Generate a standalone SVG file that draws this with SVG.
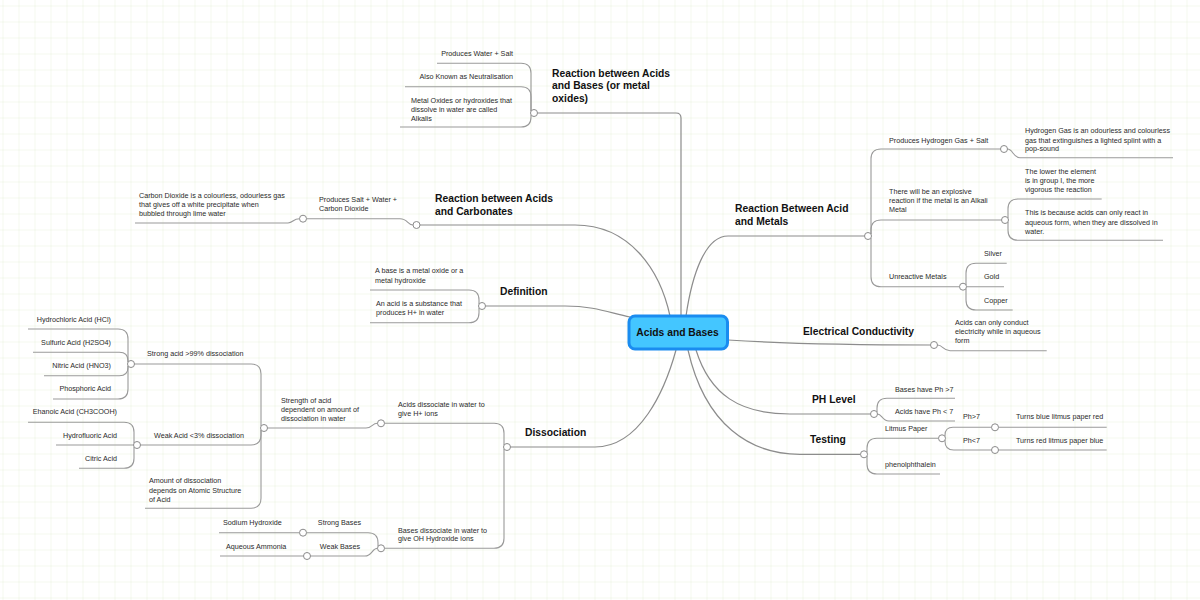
<svg xmlns="http://www.w3.org/2000/svg" width="1200" height="600" viewBox="0 0 1200 600">
<defs>
<pattern id="grid" x="3.5" y="6.5" width="16" height="16" patternUnits="userSpaceOnUse">
<path d="M16 0 V16 M0 16 H16" fill="none" stroke="#e8f0dd" stroke-width="1"/>
</pattern>
<style>
.c{fill:none;stroke:#8c8c8c;stroke-width:1.2}
.l{fill:none;stroke:#9a9a9a;stroke-width:1.1}
.k{fill:#fff;stroke:#8a8a8a;stroke-width:1}
.t{font-family:"Liberation Sans",Arial,sans-serif;font-size:7.2px;fill:#2a2a2a}
.e{text-anchor:end}
.h{font-family:"Liberation Sans",Arial,sans-serif;font-size:10.3px;font-weight:bold;fill:#111}
</style>
</defs>
<rect width="1200" height="600" fill="#fff"/>
<rect width="1200" height="600" fill="url(#grid)"/>

<g id="connectors">
<path class="c" d="M537.5,113 H676 Q681,113 681,118 V316"/>
<path class="c" d="M420,225 H575 C630,225 660,270 670,316"/>
<path class="c" d="M485.5,306 H565 C595,306 610,313 630,317"/>
<path class="c" d="M510.5,447 H595 C640,447 665,390 676,350"/>
<path class="c" d="M864.5,236 H728 C705,236 692,275 686,316"/>
<path class="c" d="M728,340 C790,344 850,345 930.5,345"/>
<path class="c" d="M696,350 C710,395 740,414 790,414 H870.5"/>
<path class="c" d="M688,350 C705,425 750,454.3 800,454.3 H860.5"/>

<path class="l" d="M437,63.3 H521 Q531,63.3 531,73.3 V111.2"/>
<path class="l" d="M405,86.7 H521 Q531,86.7 531,96.7 V111.2"/>
<path class="l" d="M400,127 H521 Q531,127 531,117 V114.8"/>

<path class="l" d="M306.5,218.7 H400 C408,218.7 407,225 413,225"/>
<path class="l" d="M135,223 H288 C293,223 293,218.7 299.5,218.7"/>

<path class="l" d="M370,290 H469 Q479,290 479,300 V304.2"/>
<path class="l" d="M370,322.7 H469 Q479,322.7 479,312.7 V307.8"/>

<path class="l" d="M384.5,423.3 H494 Q504,423.3 504,433.3 V445.2"/>
<path class="l" d="M384.5,548.3 H494 Q504,548.3 504,538.3 V448.8"/>
<path class="l" d="M267.5,428 H366 C372,428 372,423.3 377.5,423.3"/>
<path class="l" d="M134.5,364 H251 Q261,364 261,374 V426.2"/>
<path class="l" d="M140.5,445 H251 Q261,445 261,435 V429.8"/>
<path class="l" d="M145,508.3 H251 Q261,508.3 261,498.3 V429.8"/>
<path class="l" d="M28,329 H118 Q128,329 128,339 V362.2"/>
<path class="l" d="M33,352.3 H119.3 Q128,352.3 128,361 V362.2"/>
<path class="l" d="M44,375.7 H119.3 Q128,375.7 128,367 V365.8"/>
<path class="l" d="M53,399 H118 Q128,399 128,389 V365.8"/>
<path class="l" d="M28,422.3 H124 Q134,422.3 134,432.3 V443.2"/>
<path class="l" d="M56,445 H133.5"/>
<path class="l" d="M79,468.3 H124 Q134,468.3 134,458.3 V446.8"/>
<path class="l" d="M306.5,532.7 H368 Q378,532.7 378,542.7 V546.5"/>
<path class="l" d="M310.5,556 H365 C372,556 372,548.3 377.5,548.3"/>
<path class="l" d="M219,532.7 H299.5"/>
<path class="l" d="M220,556 H303.5"/>

<path class="l" d="M871,234.2 V159 Q871,149 881,149 H1000.5"/>
<path class="l" d="M871,234.2 V230 Q871,220 881,220 H1001.5"/>
<path class="l" d="M871,237.8 V276.7 Q871,286.7 881,286.7 H959.5"/>
<path class="l" d="M1007.5,149 C1013,149 1013,157.7 1020,157.7 H1173"/>
<path class="l" d="M1008,218.2 V209 Q1008,199 1018,199 H1101.7"/>
<path class="l" d="M1008,221.8 V230.3 Q1008,240.3 1018,240.3 H1163"/>
<path class="l" d="M966,284.9 V273.3 Q966,263.3 976,263.3 H1006.7"/>
<path class="l" d="M966.5,286.7 H1004"/>
<path class="l" d="M966,288.5 V300 Q966,310 976,310 H1012.7"/>

<path class="l" d="M937.5,345 C943,345 943,350.7 950,350.7 H1046.7"/>

<path class="l" d="M877,412.2 V408.3 Q877,398.3 887,398.3 H955"/>
<path class="l" d="M877.5,414 C882,414 882,421 889,421 H955"/>

<path class="l" d="M867,452.5 V448.3 Q867,438.3 877,438.3 H938.5"/>
<path class="l" d="M867,456.1 V464 Q867,474 877,474 H940"/>
<path class="l" d="M945,436.5 V435.3 Q945,427.3 953,427.3 H991.5"/>
<path class="l" d="M945,440.1 V441.3 Q945,450 953.7,450 H991.5"/>
<path class="l" d="M998.5,427.3 H1106.7"/>
<path class="l" d="M998.5,450 H1106.7"/>
</g>

<g id="n-root">
<rect x="629" y="316" width="98.5" height="33" rx="6" fill="#44c6ff" stroke="#1a8cf0" stroke-width="3"/>
<text class="h" x="677.5" y="336" text-anchor="middle" font-size="10">Acids and Bases</text>
</g>

<g id="n-acid-base-reaction">
<circle class="k" cx="534" cy="113" r="3.5"/>
<text class="h" x="552"><tspan x="552" y="76.5">Reaction between Acids</tspan><tspan x="552" y="89">and Bases (or metal</tspan><tspan x="552" y="101.5">oxides)</tspan></text>
</g>
<g id="n-water-salt"><text class="t e" x="513" y="55.6">Produces Water + Salt</text></g>
<g id="n-neutralisation"><text class="t e" x="513" y="78.6">Also Known as Neutralisation</text></g>
<g id="n-alkalis"><text class="t"><tspan x="411" y="102.6">Metal Oxides or hydroxides that</tspan><tspan x="411" y="111.6">dissolve in water are called</tspan><tspan x="411" y="120.6">Alkalis</tspan></text></g>

<g id="n-carbonates">
<circle class="k" cx="416.5" cy="225" r="3.5"/>
<text class="h"><tspan x="435" y="201.7">Reaction between Acids</tspan><tspan x="435" y="214.7">and Carbonates</tspan></text>
</g>
<g id="n-salt-water-co2">
<circle class="k" cx="303" cy="218.7" r="3.5"/>
<text class="t"><tspan x="319" y="201.8">Produces Salt + Water +</tspan><tspan x="319" y="211.3">Carbon Dioxide</tspan></text>
</g>
<g id="n-co2"><text class="t"><tspan x="139" y="198.3">Carbon Dioxide is a colourless, odourless gas</tspan><tspan x="139" y="207.3">that gives off a white precipitate when</tspan><tspan x="139" y="216">bubbled through lime water</tspan></text></g>

<g id="n-definition">
<circle class="k" cx="482" cy="306" r="3.5"/>
<text class="h" x="500" y="294.7">Definition</text>
</g>
<g id="n-base-def"><text class="t"><tspan x="375" y="273.3">A base is a metal oxide or a</tspan><tspan x="375" y="282.6">metal hydroxide</tspan></text></g>
<g id="n-acid-def"><text class="t"><tspan x="376" y="306">An acid is a substance that</tspan><tspan x="376" y="315.3">produces H+ in water</tspan></text></g>

<g id="n-dissociation">
<circle class="k" cx="507" cy="447" r="3.5"/>
<text class="h" x="525" y="435.7">Dissociation</text>
</g>
<g id="n-acids-dissociate">
<circle class="k" cx="381" cy="423.3" r="3.5"/>
<text class="t"><tspan x="398" y="407.3">Acids dissociate in water to</tspan><tspan x="398" y="416">give H+ ions</tspan></text>
</g>
<g id="n-strength">
<circle class="k" cx="264" cy="428" r="3.5"/>
<text class="t"><tspan x="281" y="403.3">Strength of acid</tspan><tspan x="281" y="412">dependent on amount of</tspan><tspan x="281" y="421.3">dissociation in water</tspan></text>
</g>
<g id="n-strong-acid">
<circle class="k" cx="131" cy="364" r="3.5"/>
<text class="t" x="147" y="356">Strong acid &gt;99% dissociation</text>
</g>
<g id="n-hcl"><text class="t e" x="111" y="321.6">Hydrochloric Acid (HCl)</text></g>
<g id="n-h2so4"><text class="t e" x="111" y="345">Sulfuric Acid (H2SO4)</text></g>
<g id="n-hno3"><text class="t e" x="111" y="368.3">Nitric Acid (HNO3)</text></g>
<g id="n-phosphoric"><text class="t e" x="111" y="391">Phosphoric Acid</text></g>
<g id="n-weak-acid">
<circle class="k" cx="137" cy="445" r="3.5"/>
<text class="t" x="154" y="438.3">Weak Acid &lt;3% dissociation</text>
</g>
<g id="n-ethanoic"><text class="t e" x="117" y="414.3">Ehanoic Acid (CH3COOH)</text></g>
<g id="n-hf"><text class="t e" x="117" y="438.3">Hydrofluoric Acid</text></g>
<g id="n-citric"><text class="t e" x="117" y="461">Citric Acid</text></g>
<g id="n-amount"><text class="t"><tspan x="149" y="483.3">Amount of dissociation</tspan><tspan x="149" y="492.6">depends on Atomic Structure</tspan><tspan x="149" y="502">of Acid</tspan></text></g>
<g id="n-bases-dissociate">
<circle class="k" cx="381" cy="548.3" r="3.5"/>
<text class="t"><tspan x="398" y="532.6">Bases dissociate in water to</tspan><tspan x="398" y="541">give OH Hydroxide ions</tspan></text>
</g>
<g id="n-strong-bases">
<circle class="k" cx="303" cy="532.7" r="3.5"/>
<text class="t e" x="361" y="525">Strong Bases</text>
</g>
<g id="n-weak-bases">
<circle class="k" cx="307" cy="556" r="3.5"/>
<text class="t e" x="360" y="549.3">Weak Bases</text>
</g>
<g id="n-naoh"><text class="t" x="223" y="525">Sodium Hydroxide</text></g>
<g id="n-ammonia"><text class="t" x="226" y="549.3">Aqueous Ammonia</text></g>

<g id="n-metals">
<circle class="k" cx="868" cy="236" r="3.5"/>
<text class="h"><tspan x="735" y="212">Reaction Between Acid</tspan><tspan x="735" y="225.4">and Metals</tspan></text>
</g>
<g id="n-hydrogen">
<circle class="k" cx="1004" cy="149" r="3.5"/>
<text class="t" x="889" y="142.6">Produces Hydrogen Gas + Salt</text>
</g>
<g id="n-hydrogen-gas"><text class="t"><tspan x="1025" y="133.3">Hydrogen Gas is an odourless and colourless</tspan><tspan x="1025" y="142.6">gas that extinguishes a lighted splint with a</tspan><tspan x="1025" y="151.3">pop-sound</tspan></text></g>
<g id="n-explosive">
<circle class="k" cx="1005" cy="220" r="3.5"/>
<text class="t"><tspan x="889" y="194.3">There will be an explosive</tspan><tspan x="889" y="203.3">reaction if the metal is an Alkali</tspan><tspan x="889" y="212.3">Metal</tspan></text>
</g>
<g id="n-lower"><text class="t"><tspan x="1025" y="174.3">The lower the element</tspan><tspan x="1025" y="183">is in group I, the more</tspan><tspan x="1025" y="192">vigorous the reaction</tspan></text></g>
<g id="n-because"><text class="t"><tspan x="1025" y="215.3">This is because acids can only react in</tspan><tspan x="1025" y="224.6">aqueous form, when they are dissolved in</tspan><tspan x="1025" y="233.6">water.</tspan></text></g>
<g id="n-unreactive">
<circle class="k" cx="963" cy="286.7" r="3.5"/>
<text class="t" x="889" y="278.6">Unreactive Metals</text>
</g>
<g id="n-silver"><text class="t" x="984" y="256">Silver</text></g>
<g id="n-gold"><text class="t" x="984" y="279.3">Gold</text></g>
<g id="n-copper"><text class="t" x="984" y="302.6">Copper</text></g>

<g id="n-electrical">
<circle class="k" cx="934" cy="345" r="3.5"/>
<text class="h" x="803" y="334.7">Electrical Conductivity</text>
</g>
<g id="n-aqueous-conduct"><text class="t"><tspan x="955" y="325.3">Acids can only conduct</tspan><tspan x="955" y="334.3">electricity while in aqueous</tspan><tspan x="955" y="343.3">form</tspan></text></g>

<g id="n-ph">
<circle class="k" cx="874" cy="414" r="3.5"/>
<text class="h" x="812" y="402.7">PH Level</text>
</g>
<g id="n-bases-ph"><text class="t" x="895" y="391.6">Bases have Ph &gt;7</text></g>
<g id="n-acids-ph"><text class="t" x="895" y="413.6">Acids have Ph &lt; 7</text></g>

<g id="n-testing">
<circle class="k" cx="864" cy="454.3" r="3.5"/>
<text class="h" x="810" y="442.7">Testing</text>
</g>
<g id="n-litmus">
<circle class="k" cx="942" cy="438.3" r="3.5"/>
<text class="t" x="885" y="431">Litmus Paper</text>
</g>
<g id="n-phenol"><text class="t" x="885" y="466.6">phenolphthalein</text></g>
<g id="n-ph-gt7">
<circle class="k" cx="995" cy="427.3" r="3.5"/>
<text class="t" x="963" y="419.3">Ph&gt;7</text>
</g>
<g id="n-ph-lt7">
<circle class="k" cx="995" cy="450" r="3.5"/>
<text class="t" x="963" y="442.6">Ph&lt;7</text>
</g>
<g id="n-blue-red"><text class="t" x="1016" y="419.3">Turns blue litmus paper red</text></g>
<g id="n-red-blue"><text class="t" x="1016" y="442.6">Turns red litmus paper blue</text></g>
</svg>
